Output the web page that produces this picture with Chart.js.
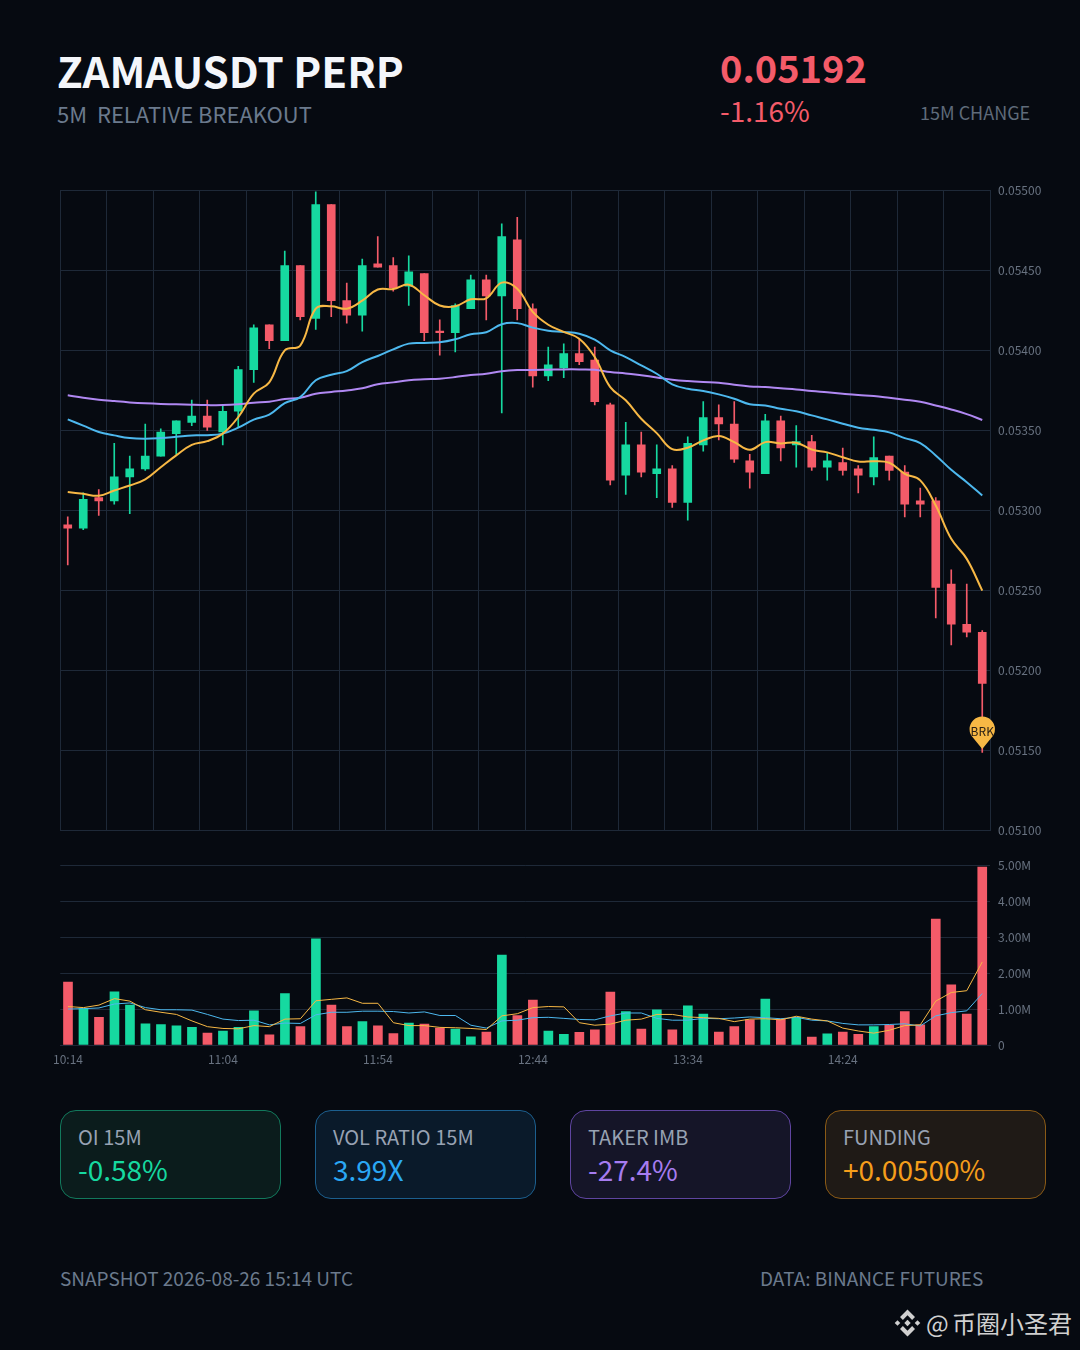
<!DOCTYPE html>
<html>
<head>
<meta charset="utf-8">
<script src="https://cdn.jsdelivr.net/npm/chart.js@4"></script>
<style>
html, body { margin: 0; padding: 0; }
body { width: 1080px; height: 1350px; background: #060a11; position: relative; overflow: hidden;
  font-family: "Noto Sans CJK SC", "Noto Sans", sans-serif; }
.t { position: absolute; white-space: pre; line-height: 1; }
canvas { position: absolute; display: block; }
.card { position: absolute; top: 1110px; width: 219px; height: 87px; border: 1px solid; border-radius: 16px; }
.card .l { position: absolute; left: 17px; top: 16px; font-size: 20px; line-height: 1; color: #98a2b3; white-space: pre; }
.card .v { position: absolute; left: 17px; top: 44px; font-size: 28px; line-height: 1; white-space: pre; }
</style>
</head>
<body>

<div class="t" style="left:57px;top:49px;font-size:42px;font-weight:700;color:#f4f6fa">ZAMAUSDT PERP</div>
<div class="t" style="left:57px;top:102px;font-size:22px;color:#6b7a8d">5M  RELATIVE BREAKOUT</div>
<div class="t" style="left:720px;top:48px;font-size:38px;font-weight:700;color:#f45b69">0.05192</div>
<div class="t" style="left:720px;top:96px;font-size:28px;color:#f45b69">-1.16%</div>
<div class="t" style="left:920px;top:103px;font-size:18px;color:#5f6b7a">15M CHANGE</div>

<canvas id="chart_price" width="1030" height="671" style="left:50px;top:175px"></canvas>
<canvas id="chart_vol" width="1034" height="230" style="left:46px;top:850px"></canvas>

<div class="card" style="left:60px;background:#0b1c1c;border-color:#12795c">
  <div class="l">OI 15M</div><div class="v" style="color:#16d9a0">-0.58%</div>
</div>
<div class="card" style="left:315px;background:#0a1a2a;border-color:#1c5f8e">
  <div class="l">VOL RATIO 15M</div><div class="v" style="color:#2aa8f5">3.99X</div>
</div>
<div class="card" style="left:570px;background:#151528;border-color:#5f45a0">
  <div class="l">TAKER IMB</div><div class="v" style="color:#a67cf0">-27.4%</div>
</div>
<div class="card" style="left:825px;background:#1f1a16;border-color:#8a5a16">
  <div class="l">FUNDING</div><div class="v" style="color:#f59e1b">+0.00500%</div>
</div>

<div class="t" style="left:60px;top:1268px;font-size:19px;color:#6b7a8d">SNAPSHOT 2026-08-26 15:14 UTC</div>
<div class="t" style="left:760px;top:1268px;font-size:19px;color:#6b7a8d">DATA: BINANCE FUTURES</div>

<svg style="position:absolute;left:893px;top:1309px" width="29" height="28" viewBox="0 0 28 28" fill="#d0d0d0">
  <path d="M14 0.5 L21.5 8 L18.6 10.9 L14 6.3 L9.4 10.9 L6.5 8 Z"/>
  <path d="M14 27.5 L21.5 20 L18.6 17.1 L14 21.7 L9.4 17.1 L6.5 20 Z"/>
  <path d="M4 11.2 L6.8 14 L4 16.8 L1.2 14 Z"/>
  <path d="M24 11.2 L26.8 14 L24 16.8 L21.2 14 Z"/>
  <path d="M14 10.8 L17.2 14 L14 17.2 L10.8 14 Z"/>
</svg>
<div class="t" style="left:926px;top:1311px;font-size:24px;color:#d0d0d0">@</div>
<div class="t" style="left:952px;top:1311px;font-size:24px;color:#d0d0d0">币圈小圣君</div>

<script>
// candles, 5m, 10:14 .. 15:09
var times = ['10:14','10:19','10:24','10:29','10:34','10:39','10:44','10:49','10:54','10:59',
  '11:04','11:09','11:14','11:19','11:24','11:29','11:34','11:39','11:44','11:49',
  '11:54','11:59','12:04','12:09','12:14','12:19','12:24','12:29','12:34','12:39',
  '12:44','12:49','12:54','12:59','13:04','13:09','13:14','13:19','13:24','13:29',
  '13:34','13:39','13:44','13:49','13:54','13:59','14:04','14:09','14:14','14:19',
  '14:24','14:29','14:34','14:39','14:44','14:49','14:54','14:59','15:04','15:09'];

var opens = [0.05291,0.05289,0.05308,0.05306,0.05321,0.05326,0.05334,0.05348,0.05355,0.05359,
  0.05349,0.05362,0.05388,0.05416,0.05406,0.05453,0.05420,0.05491,0.05431,0.05422,
  0.05454,0.05453,0.05440,0.05448,0.05412,0.05411,0.05426,0.05444,0.05434,0.05469,
  0.05426,0.05384,0.05389,0.05398,0.05394,0.05366,0.05322,0.05341,0.05323,0.05326,
  0.05305,0.05341,0.05358,0.05354,0.05331,0.05323,0.05356,0.05341,0.05343,0.05327,
  0.05330,0.05326,0.05321,0.05334,0.05324,0.05306,0.05306,0.05254,0.05229,0.05224];
var highs = [0.05296,0.05311,0.05313,0.05342,0.05334,0.05354,0.05351,0.05356,0.05369,0.05369,
  0.05365,0.05390,0.05416,0.05416,0.05462,0.05453,0.05499,0.05491,0.05442,0.05457,
  0.05471,0.05458,0.05459,0.05448,0.05419,0.05429,0.05447,0.05447,0.05479,0.05483,
  0.05429,0.05402,0.05404,0.05407,0.05402,0.05367,0.05355,0.05349,0.05341,0.05328,
  0.05346,0.05368,0.05366,0.05368,0.05335,0.05360,0.05359,0.05353,0.05347,0.05336,
  0.05339,0.05328,0.05346,0.05334,0.05328,0.05314,0.05308,0.05263,0.05254,0.05225];
var lows = [0.05266,0.05288,0.05297,0.05304,0.05298,0.05325,0.05334,0.05335,0.05353,0.05350,
  0.05341,0.05352,0.05380,0.05401,0.05406,0.05419,0.05413,0.05421,0.05417,0.05412,
  0.05452,0.05437,0.05428,0.05406,0.05397,0.05399,0.05426,0.05419,0.05361,0.05419,
  0.05377,0.05381,0.05383,0.05391,0.05366,0.05316,0.05310,0.05321,0.05308,0.05302,
  0.05294,0.05337,0.05344,0.05330,0.05314,0.05323,0.05331,0.05327,0.05325,0.05319,
  0.05322,0.05311,0.05316,0.05319,0.05296,0.05296,0.05233,0.05216,0.05221,0.05149];
var closes = [0.05289,0.05307,0.05306,0.05321,0.05326,0.05334,0.05349,0.05356,0.05359,0.05352,
  0.05362,0.05388,0.05414,0.05406,0.05453,0.05421,0.05491,0.05431,0.05422,0.05453,
  0.05452,0.05439,0.05449,0.05411,0.05411,0.05428,0.05444,0.05434,0.05471,0.05426,
  0.05384,0.05391,0.05398,0.05393,0.05368,0.05319,0.05341,0.05324,0.05326,0.05305,
  0.05342,0.05358,0.05354,0.05332,0.05324,0.05356,0.05339,0.05343,0.05327,0.05331,
  0.05325,0.05322,0.05333,0.05325,0.05304,0.05304,0.05252,0.05229,0.05224,0.05192];

var maFast = [0.053115,0.053104,0.053092,0.053125,0.053156,0.053194,0.053270,0.053344,0.053410,0.053433,
  0.053480,0.053583,0.053730,0.053800,0.054000,0.054030,0.054260,0.054275,0.054260,0.054310,
  0.054380,0.054383,0.054410,0.054344,0.054280,0.054275,0.054319,0.054325,0.054423,0.054385,
  0.054240,0.054160,0.054115,0.054073,0.053958,0.053770,0.053688,0.053573,0.053483,0.053383,
  0.053392,0.053438,0.053465,0.053427,0.053379,0.053427,0.053419,0.053423,0.053381,0.053363,
  0.053333,0.053306,0.053308,0.053298,0.053229,0.053188,0.053031,0.052823,0.052698,0.052500];
var maMid = [0.053569,0.053530,0.053490,0.053469,0.053452,0.053448,0.053452,0.053460,0.053469,0.053470,
  0.053480,0.053517,0.053567,0.053598,0.053670,0.053708,0.053813,0.053848,0.053870,0.053927,
  0.053965,0.054006,0.054042,0.054046,0.054050,0.054069,0.054100,0.054113,0.054163,0.054170,
  0.054142,0.054123,0.054115,0.054104,0.054067,0.054000,0.053958,0.053906,0.053854,0.053788,
  0.053760,0.053746,0.053725,0.053698,0.053663,0.053656,0.053635,0.053620,0.053594,0.053569,
  0.053542,0.053517,0.053504,0.053488,0.053452,0.053421,0.053344,0.053254,0.053177,0.053094];
var maSlow = [0.053719,0.053704,0.053692,0.053683,0.053675,0.053669,0.053665,0.053663,0.053660,0.053658,
  0.053658,0.053663,0.053673,0.053679,0.053696,0.053704,0.053729,0.053740,0.053750,0.053763,
  0.053788,0.053800,0.053813,0.053819,0.053823,0.053833,0.053846,0.053854,0.053870,0.053877,
  0.053877,0.053879,0.053881,0.053881,0.053879,0.053865,0.053856,0.053844,0.053831,0.053817,
  0.053808,0.053802,0.053798,0.053785,0.053775,0.053771,0.053763,0.053756,0.053746,0.053738,
  0.053729,0.053721,0.053715,0.053704,0.053692,0.053679,0.053656,0.053631,0.053602,0.053565];

// volume in millions
var volumes = [1.75,1.01,0.77,1.48,1.11,0.59,0.565,0.53,0.49,0.33,
  0.39,0.49,0.95,0.28,1.43,0.51,2.95,1.11,0.51,0.65,
  0.53,0.32,0.61,0.58,0.47,0.44,0.23,0.36,2.50,0.82,
  1.25,0.39,0.30,0.35,0.42,1.47,0.93,0.44,0.98,0.42,
  1.09,0.86,0.36,0.51,0.70,1.28,0.72,0.77,0.22,0.31,
  0.36,0.30,0.51,0.55,0.93,0.56,3.50,1.67,0.86,4.95];
var volFast = [1.07,1.04,1.11,1.29,1.22,0.98,0.91,0.85,0.67,0.51,
  0.46,0.45,0.54,0.51,0.72,0.73,1.23,1.27,1.31,1.16,
  1.16,0.62,0.54,0.54,0.49,0.48,0.46,0.43,0.81,0.87,
  1.04,1.07,1.06,0.62,0.55,0.58,0.69,0.72,0.85,0.85,
  0.78,0.76,0.74,0.65,0.72,0.73,0.70,0.80,0.72,0.67,
  0.47,0.39,0.33,0.41,0.54,0.56,1.22,1.46,1.51,2.31];
var volSlow = [1.00,1.01,1.03,1.14,1.17,1.04,0.98,0.98,0.97,0.85,
  0.72,0.68,0.69,0.56,0.61,0.60,0.84,0.91,0.91,0.94,
  0.94,0.93,0.89,0.92,0.82,0.82,0.55,0.47,0.67,0.69,
  0.76,0.77,0.74,0.71,0.70,0.81,0.89,0.89,0.74,0.69,
  0.69,0.74,0.73,0.75,0.78,0.76,0.73,0.77,0.69,0.67,
  0.60,0.56,0.56,0.57,0.59,0.53,0.81,0.90,0.95,1.43];

var breakoutIndex = 59;
var breakoutPrice = 0.05151;

var UP = '#16d9a0', DOWN = '#f45b69', GRID = '#1e2938', TICK = '#687280';
var FAST = '#f7b845', MID = '#4db8ee', SLOW = '#b088f2';

Chart.defaults.font.family = '"Noto Sans CJK SC", "Noto Sans", sans-serif';
Chart.defaults.font.size = 12;
Chart.defaults.animation = false;

// up/down colour for every bar
var barColors = opens.map(function (o, i) { return closes[i] >= o ? UP : DOWN; });

function pairs(a, b) {
    return a.map(function (v, i) { return [v, b[i]]; });
}

function lineSet(data, color, width, tension) {
    return { type: 'line', data: data, borderColor: color, borderWidth: width, pointRadius: 0,
        tension: tension, order: 0, clip: false };
}

// the BRK pin under the last candle
var breakoutPin = {
    id: 'breakoutPin',
    afterDatasetsDraw: function (chart) {
        var ctx = chart.ctx;
        var x = chart.scales.x.getPixelForValue(breakoutIndex);
        var tip = chart.scales.y.getPixelForValue(breakoutPrice);
        var cy = tip - 20, r = 12.7;
        ctx.save();
        ctx.fillStyle = FAST;
        ctx.beginPath();
        ctx.arc(x, cy, r, Math.PI * 0.75, Math.PI * 0.25);
        ctx.lineTo(x, tip);
        ctx.closePath();
        ctx.fill();
        ctx.fillStyle = '#2b2116';
        ctx.font = '12px "Noto Sans CJK SC"';
        ctx.textAlign = 'center';
        ctx.textBaseline = 'middle';
        ctx.fillText('BRK', x, cy + 2);
        ctx.restore();
    }
};

new Chart(document.getElementById('chart_price').getContext('2d'), {
    type: 'bar',
    data: {
        labels: times,
        datasets: [
            lineSet(maFast, FAST, 2, 0.4),
            lineSet(maMid, MID, 2, 0.4),
            lineSet(maSlow, SLOW, 2, 0.4),
            { data: pairs(opens, closes), backgroundColor: barColors, barThickness: 8, grouped: false,
                borderSkipped: false, order: 1 },
            { data: pairs(lows, highs), backgroundColor: barColors, barThickness: 1, grouped: false,
                borderSkipped: false, order: 2 }
        ]
    },
    options: {
        responsive: false,
        devicePixelRatio: 1,
        layout: { padding: { left: 10, top: 0, bottom: 0, right: 0 } },
        plugins: { legend: { display: false }, tooltip: { enabled: false } },
        scales: {
            x: {
                grid: {
                    offset: true, drawTicks: false, lineWidth: 1,
                    color: function (c) { return c.index % 3 === 0 ? GRID : 'transparent'; }
                },
                border: { display: false },
                ticks: { display: false, autoSkip: false },
                afterFit: function (s) { s.height = 0; }
            },
            y: {
                position: 'right', min: 0.051, max: 0.055,
                grid: { color: GRID, drawTicks: false },
                border: { color: GRID },
                ticks: {
                    stepSize: 0.0005, color: TICK, padding: 8,
                    callback: function (v) { return v.toFixed(5); }
                },
                afterFit: function (s) { s.width = 90; }
            }
        }
    },
    plugins: [breakoutPin]
});

new Chart(document.getElementById('chart_vol').getContext('2d'), {
    type: 'bar',
    data: {
        labels: times,
        datasets: [
            lineSet(volFast, FAST, 1, 0),
            lineSet(volSlow, MID, 1, 0),
            { data: volumes, backgroundColor: barColors, barThickness: 9, order: 1 }
        ]
    },
    options: {
        responsive: false,
        devicePixelRatio: 1,
        layout: { padding: { left: 0, top: 0, bottom: 0, right: 0 } },
        plugins: { legend: { display: false }, tooltip: { enabled: false } },
        scales: {
            x: {
                grid: { display: false, drawTicks: false },
                border: { color: GRID },
                ticks: {
                    color: TICK, padding: 7, autoSkip: false, maxRotation: 0,
                    callback: function (v, i) { return i % 10 === 0 ? times[i] : ''; }
                },
                afterFit: function (s) { s.height = 35; }
            },
            y: {
                position: 'right', min: 0, max: 5,
                grid: { color: GRID, drawTicks: false },
                border: { display: false },
                ticks: {
                    stepSize: 1, color: TICK, padding: 8,
                    callback: function (v) { return v === 0 ? '0' : v.toFixed(2) + 'M'; }
                },
                afterFit: function (s) { s.width = 90; }
            }
        }
    }
});
</script>
</body>
</html>
